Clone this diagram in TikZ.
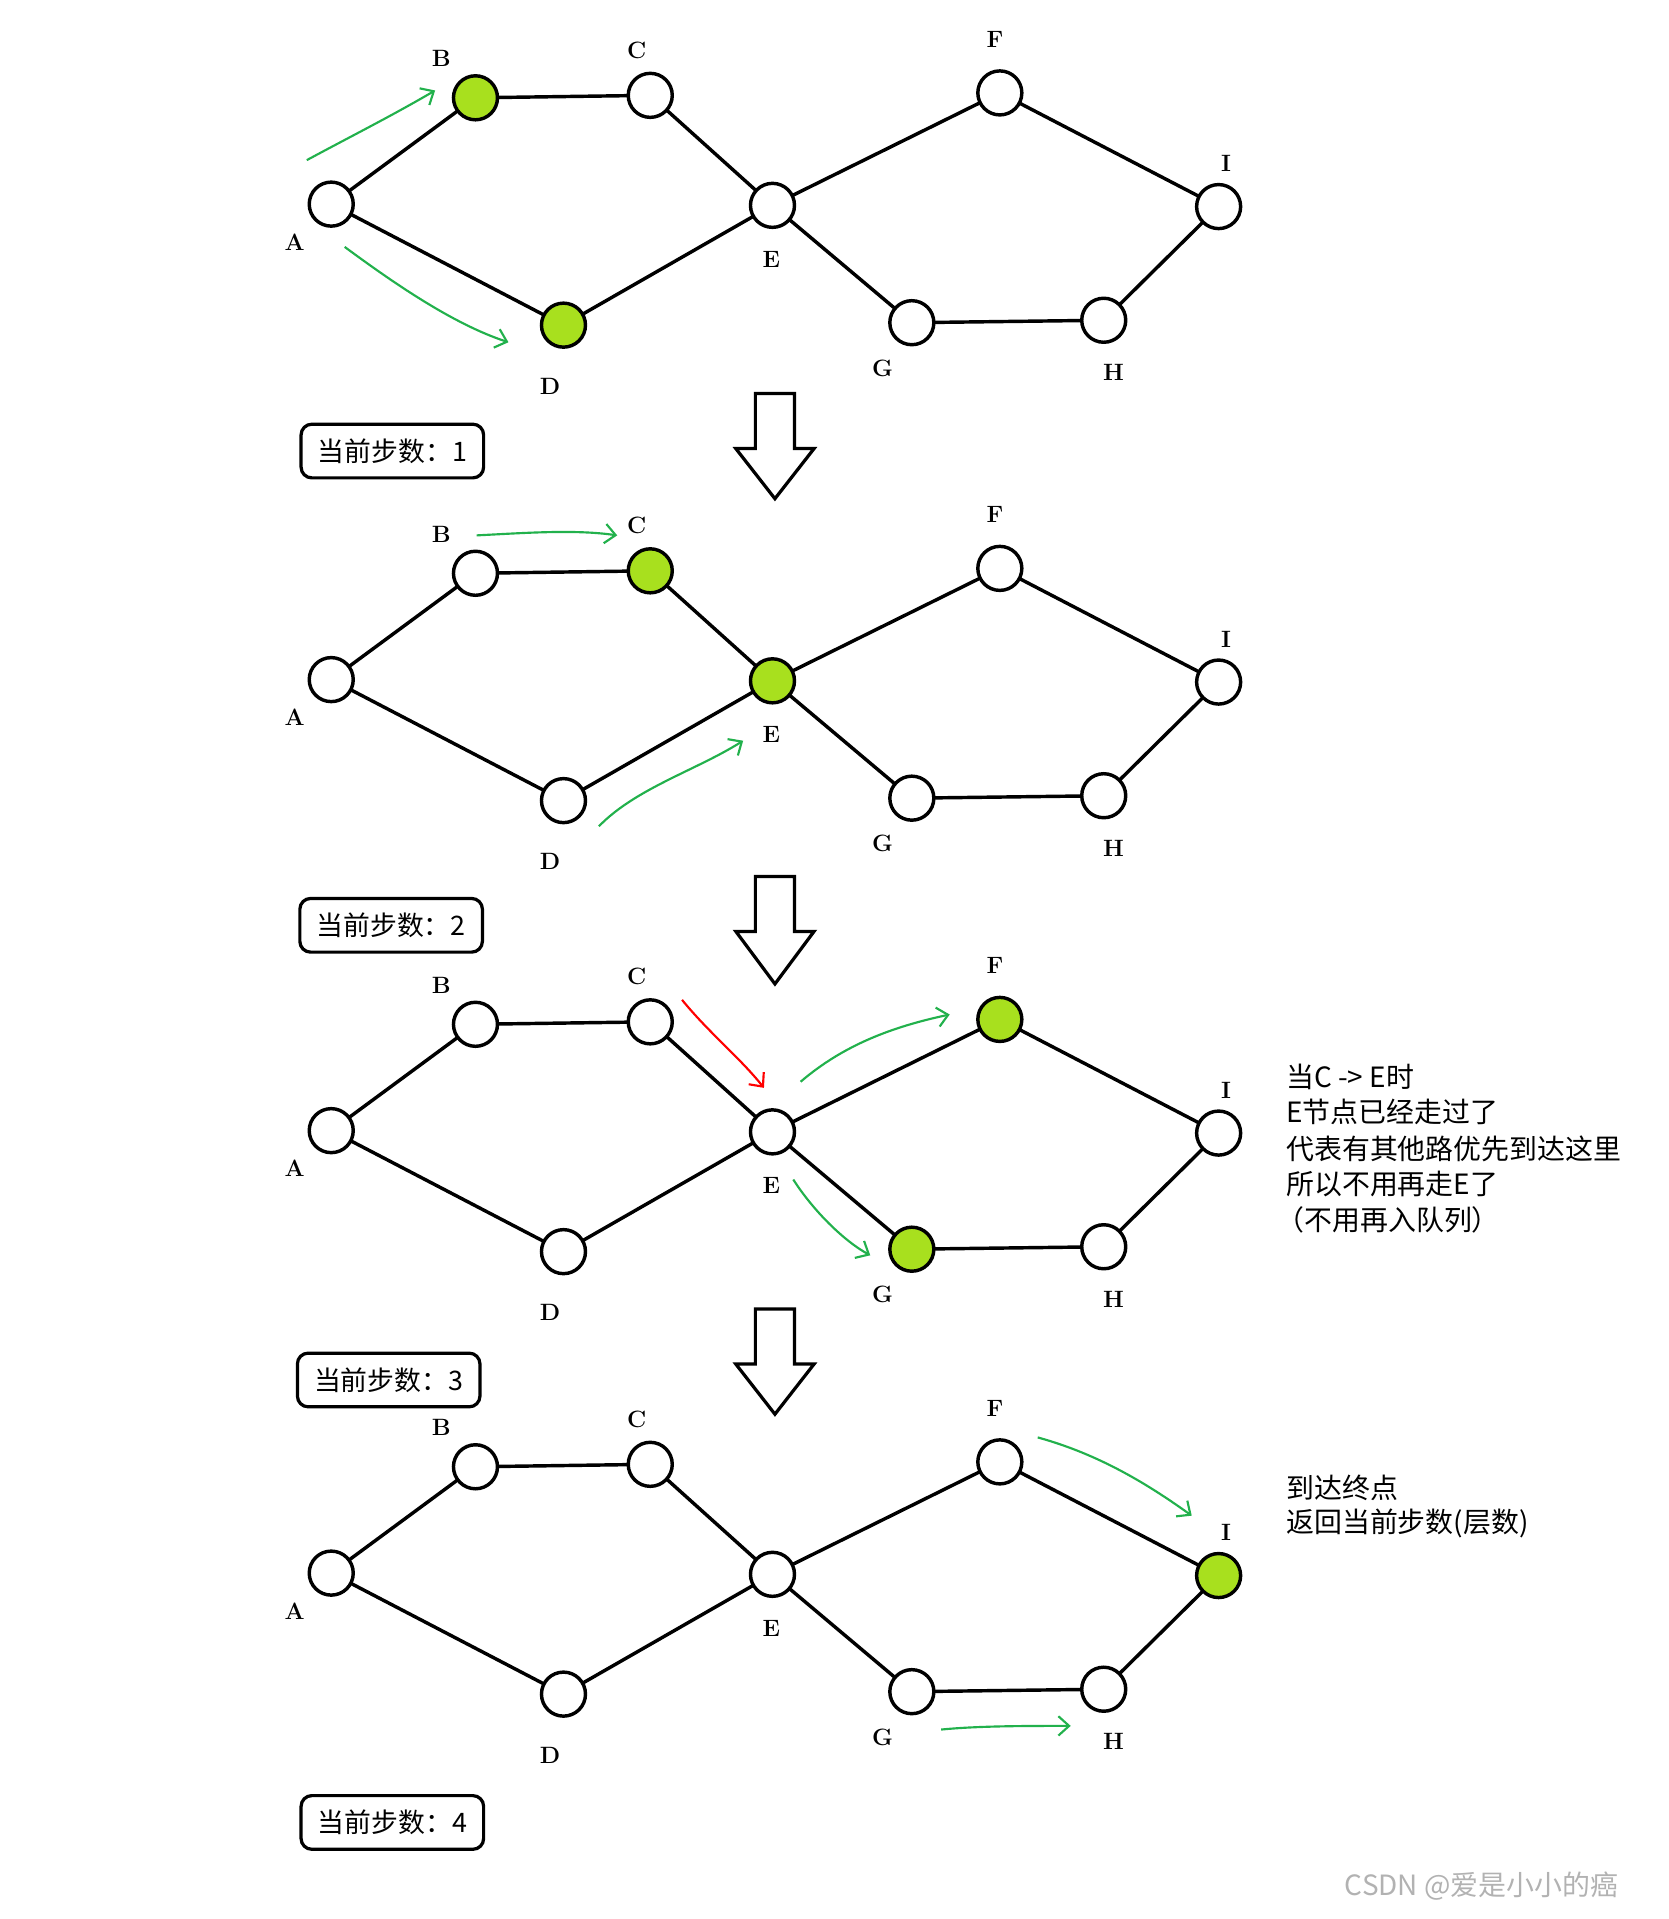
\documentclass[tikz,border=0pt]{standalone}
\usepackage{fontspec}
\newfontfamily\cjk{Noto Sans CJK SC}
\usetikzlibrary{arrows.meta}
\definecolor{lgreen}{HTML}{A8E01E}
\definecolor{agreen}{HTML}{22B14C}
\tikzset{
  vert/.style={circle,draw,line width=1.6pt,fill=white,minimum size=20.5pt,inner sep=0pt},
  edge/.style={line width=1.6pt},
  lab/.style={font=\fontsize{11}{12}\selectfont\bfseries},
  stepbox/.style={draw,line width=1.5pt,rounded corners=5pt,minimum width=85pt,minimum height=25pt,font=\cjk\fontsize{12.5}{14}\selectfont},
  bigarrow/.style={draw,line width=1.5pt,fill=white},
  ga/.style={draw=agreen,line width=1pt,-{Straight Barb[length=5pt,width=9pt]}},
  ra/.style={draw=red,line width=1pt,-{Straight Barb[length=5pt,width=9pt]}},
  note/.style={font=\cjk\fontsize{13}{15}\selectfont,anchor=west,inner sep=0pt},
  g1B/.style={fill=lgreen},g1D/.style={fill=lgreen},
  g2C/.style={fill=lgreen},g2E/.style={fill=lgreen},
  g3F/.style={fill=lgreen},g3G/.style={fill=lgreen},
  g4I/.style={fill=lgreen},
}
\newcommand\mkgraph[2]{%
  \begin{scope}[yshift=#2*(-0.02cm)]
  \foreach \n/\x/\y/\lx/\ly in {A/271/167/241/198,B/389/80/361/48,C/532/78/521/41,D/461/266/450/316,E/632/168/631/212,F/818/76/814/32,G/746/264/722/301,H/903/262/911/305,I/997/169/1003/134}{
    \coordinate (c#1\n) at (\x,\y);
    \node[lab] (l#1\n) at (\lx,\ly) {\n};
  }
  \end{scope}
  \draw[edge] (c#1A)--(c#1B)--(c#1C)--(c#1E)--(c#1F)--(c#1I)--(c#1H)--(c#1G)--(c#1E)--(c#1D)--(c#1A);
  \foreach \n in {A,B,C,D,E,F,G,H,I}{\node[vert,g#1\n/.try] (p#1\n) at (c#1\n) {};}
}
\newcommand\bigarr[2]{%
  \draw[bigarrow] (618,#1)--(650,#1)--(650,#1+45)--(666,#1+45)--(634,#2)--(602,#1+45)--(618,#1+45)--cycle;
}
\begin{document}
\begin{tikzpicture}[x=0.02cm,y=-0.02cm]
\useasboundingbox (0,0) rectangle (1365,1570);
\mkgraph{1}{0}
\mkgraph{2}{389}
\mkgraph{3}{758}
\mkgraph{4}{1120}
\node[stepbox] (s1) at (321,369) {当前步数：1};
\node[stepbox] (s2) at (320,757) {当前步数：2};
\node[stepbox] (s3) at (318,1129) {当前步数：3};
\node[stepbox] (s4) at (321,1491) {当前步数：4};
\bigarr{322}{408}
\bigarr{717}{805}
\bigarr{1071}{1157}
\draw[ga] (251,131) .. controls (290,110) and (320,95) .. (356,74);
\draw[ga] (282,202) .. controls (320,230) and (370,265) .. (416,280);
\draw[ga] (390,438) .. controls (430,436) and (470,433) .. (505,438);
\draw[ga] (490,676) .. controls (520,645) and (570,630) .. (608,606);
\draw[ra] (558,818) .. controls (580,845) and (605,865) .. (625,890);
\draw[ga] (655,885) .. controls (690,855) and (730,840) .. (777,830);
\draw[ga] (649,965) .. controls (665,990) and (690,1015) .. (712,1027);
\draw[ga] (849,1176) .. controls (900,1190) and (940,1215) .. (975,1240);
\draw[ga] (770,1415) .. controls (800,1412) and (840,1412) .. (876,1412);
\node[note] (t1) at (1052,881) {当C -> E时};
\node[note] (t2) at (1052,910) {E节点已经走过了};
\node[note] (t3) at (1052,940) {代表有其他路优先到达这里};
\node[note] (t4) at (1052,969) {所以不用再走E了};
\node[note] (t5) at (1044,998) {（不用再入队列）};
\node[note] (t6) at (1052,1217) {到达终点};
\node[note] (t7) at (1052,1246) {返回当前步数(层数)};
\node[note,text=gray!60] (wm) at (1100,1543) {CSDN @爱是小小的癌};
\end{tikzpicture}
\end{document}
